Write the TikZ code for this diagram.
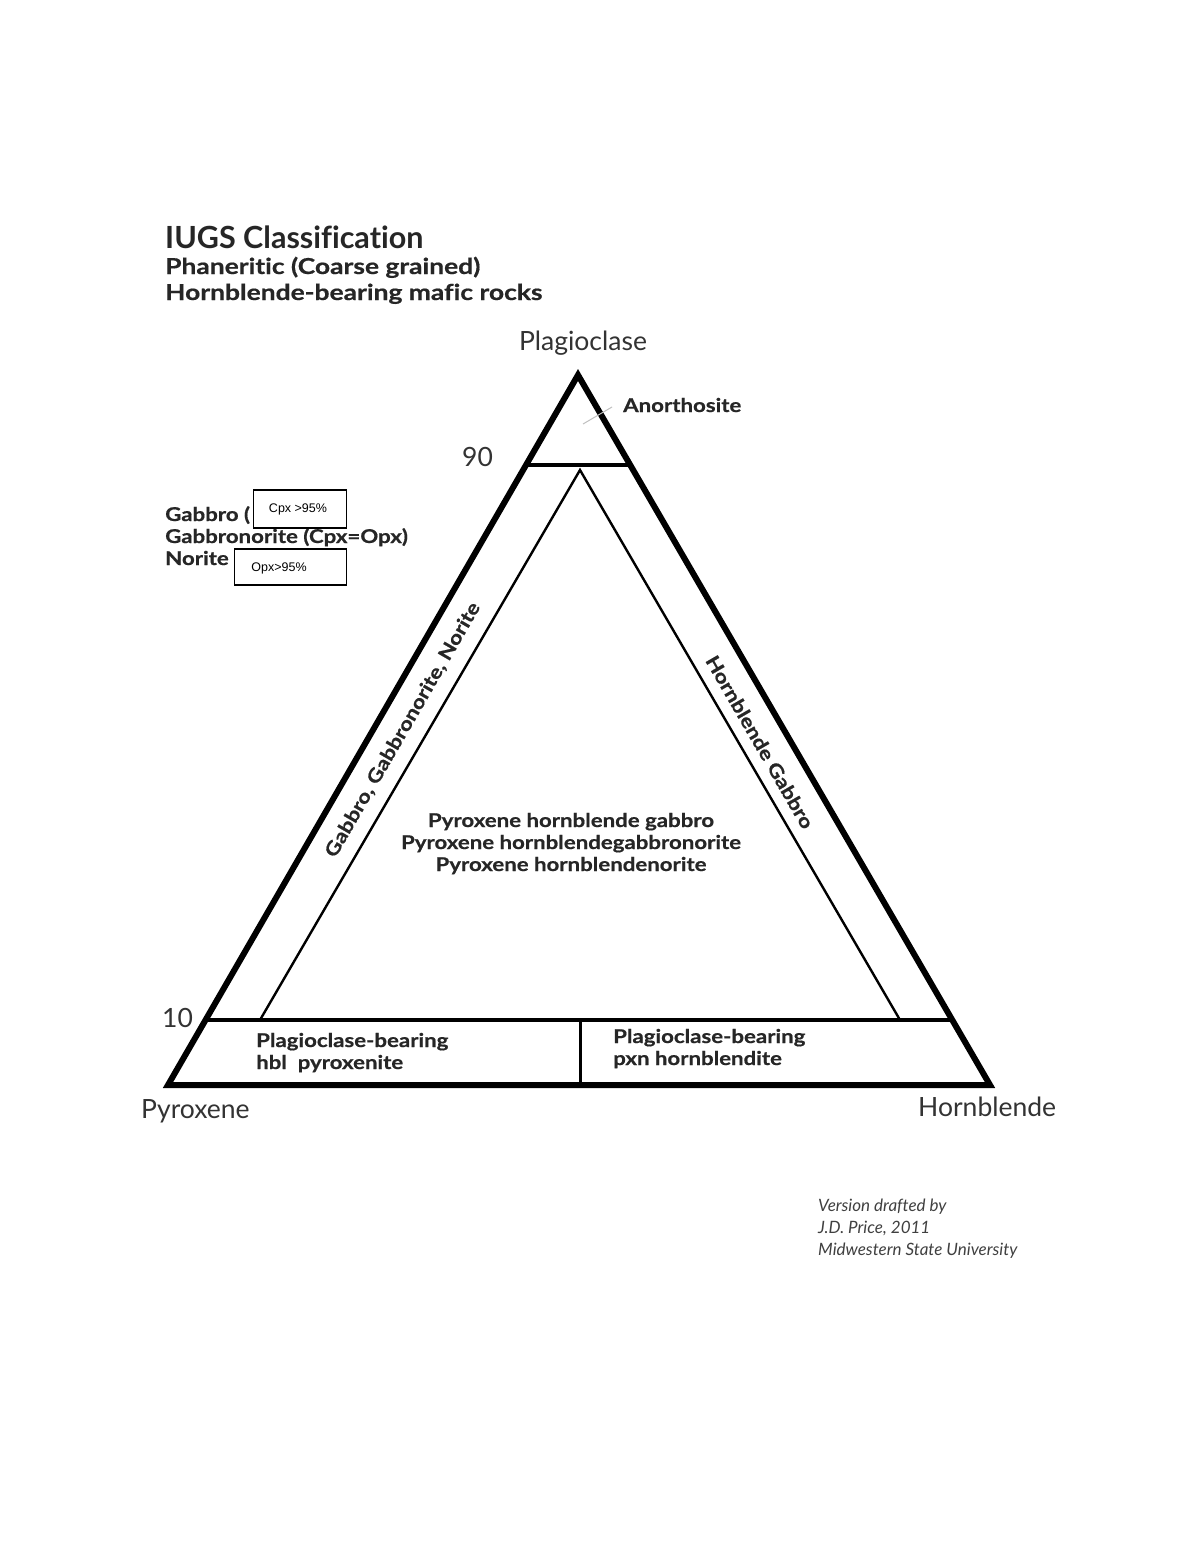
\documentclass[tikz,border=0pt]{standalone}
\usepackage{fontspec}
\setmainfont{Lato}[Ligatures=NoCommon]
\newfontfamily\lblfont{Lato}[Ligatures=NoCommon,FakeStretch=1.17,FakeBold=0.6]
\newfontfamily\subfont{Lato}[Ligatures=NoCommon,FakeStretch=1.2,FakeBold=0.6]
\newfontfamily\boxfont{Liberation Sans}
\begin{document}
\begin{tikzpicture}[x=1pt,y=-1pt,
  thickside/.style={line width=6pt, line join=miter},
  midline/.style={line width=3.5pt},
  thinline/.style={line width=2.4pt},
  lbl/.style={inner sep=0pt, font=\lblfont\fontsize{19}{22}\selectfont\bfseries, text=black!85},
  corner/.style={inner sep=0pt, font=\fontsize{26.5}{30}\selectfont, text=black!80},
  hdr/.style={inner sep=0pt, anchor=base west, font=\subfont\fontsize{22}{26}\selectfont\bfseries, text=black!85},
  pctbox/.style={draw, line width=1.2pt, fill=white, inner sep=0pt},
  boxtext/.style={inner sep=0pt, font=\boxfont\fontsize{12.5}{14}\selectfont},
  foot/.style={inner sep=0pt, anchor=base west, font=\fontsize{17}{20}\selectfont\itshape, text=black!75}]
\useasboundingbox (0,0) rectangle (1200,1553);
\fill[white] (0,0) rectangle (1200,1553);

% main triangle corners
\coordinate (P) at (578,375);
\coordinate (X) at (168,1085);
\coordinate (H) at (990,1085);
% 90 and 10 lines
\coordinate (a90) at (527,465);
\coordinate (b90) at (630,465);
\coordinate (a10) at (205,1020);
\coordinate (b10) at (951,1020);
% inner triangle
\coordinate (i1) at (580,470);
\coordinate (i2) at (260,1020);
\coordinate (i3) at (900,1020);
\coordinate (d1) at (580,1020);
\coordinate (d2) at (580,1085);

\draw[midline] (a90) -- (b90);
\draw[midline] (a10) -- (b10);
\draw[thinline] (i2) -- (i1) -- (i3);
\draw[line width=3pt] (d1) -- (d2);
\draw[thickside] (P) -- (X) -- (H) -- cycle;

% titles
\node[hdr, font=\fontsize{30.5}{34}\selectfont\bfseries] (t1) at (165,248) {IUGS Classification};
\node[hdr] (t2) at (165,274) {Phaneritic (Coarse grained)};
\node[hdr] (t3) at (165,300) {Hornblende-bearing mafic rocks};

% corner labels
\node[corner, anchor=base] (lp) at (583,350) {Plagioclase};
\node[corner, anchor=base west] (lx) at (141,1118) {Pyroxene};
\node[corner, anchor=base west] (lh) at (918,1116) {Hornblende};
\node[corner, anchor=base west] (n90) at (462,466) {90};
\node[corner, anchor=base west] (n10) at (162,1027) {10};

% anorthosite
\node[lbl, anchor=base west] (an) at (623,412) {Anorthosite};
\coordinate (an1) at (612,407);
\coordinate (an2) at (583,424);
\draw[black!25, line width=1pt] (an1) -- (an2);

% gabbro list
\node[lbl, anchor=base west] (g1) at (165,521) {Gabbro (};
\node[lbl, anchor=base west] (g2) at (165,543) {Gabbronorite (Cpx=Opx)};
\node[lbl, anchor=base west] (g3) at (165,565) {Norite};
\node[pctbox, minimum width=93pt, minimum height=38pt] (b1) at (300,509) {};
\node[boxtext] (b1t) at (298,509) {Cpx >95\%};
\node[pctbox, minimum width=112pt, minimum height=36pt] (b2) at (290.5,567) {};
\node[boxtext] (b2t) at (279,568) {Opx>95\%};

% rotated strip labels
\node[lbl, rotate=60] (sl) at (403,730) {Gabbro, Gabbronorite, Norite};
\node[lbl, rotate=-60] (sr) at (760,742) {Hornblende Gabbro};

% centre
\node[lbl, anchor=base] (c1) at (571,827) {Pyroxene hornblende gabbro};
\node[lbl, anchor=base] (c2) at (571,849) {Pyroxene hornblendegabbronorite};
\node[lbl, anchor=base] (c3) at (571,871) {Pyroxene hornblendenorite};

% bottom strip
\node[lbl, anchor=base west] (bl1) at (256,1047) {Plagioclase-bearing};
\node[lbl, anchor=base west] (bl2) at (256,1069) {hbl\ \ pyroxenite};
\node[lbl, anchor=base west] (br1) at (613,1043) {Plagioclase-bearing};
\node[lbl, anchor=base west] (br2) at (613,1065) {pxn hornblendite};

% footer
\node[foot] (f1) at (818,1211) {Version drafted by};
\node[foot] (f2) at (818,1233) {J.D. Price, 2011};
\node[foot] (f3) at (818,1255) {Midwestern State University};
\end{tikzpicture}
\end{document}
